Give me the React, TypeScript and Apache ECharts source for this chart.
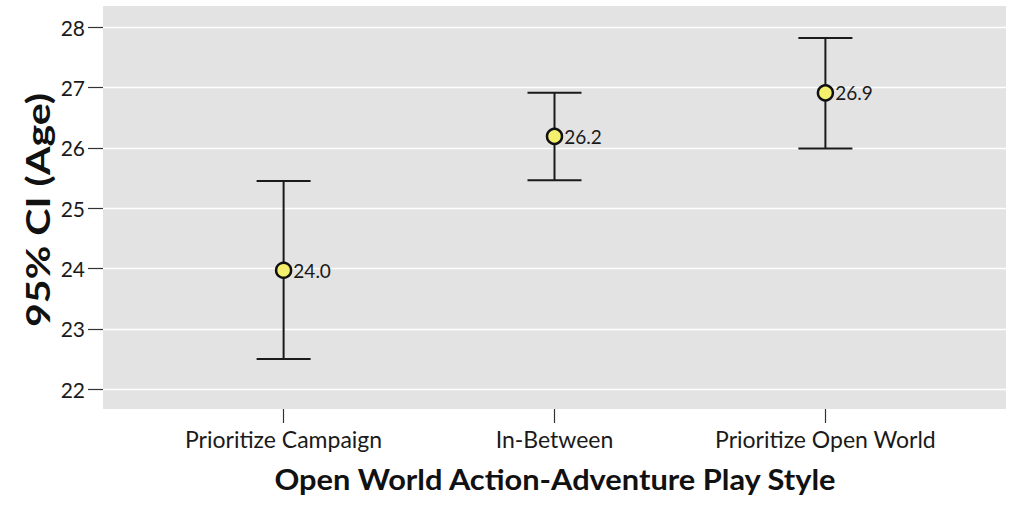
import React, { useEffect, useRef } from "react";
import * as echarts from "echarts";

const categories = ["Prioritize Campaign", "In-Between", "Prioritize Open World"];
const means = [23.97, 26.19, 26.91];
const lowerCI = [22.5, 25.46, 25.99];
const upperCI = [25.45, 26.91, 27.82];
const yTicks = [22, 23, 24, 25, 26, 27, 28];
const xPositions = [1, 2, 3];

const X_TITLE = "Open World Action-Adventure Play Style";
const Y_TITLE = "95% CI (Age)";

const FONT = "Lato";

function measure(text: string, font: string): number {
  const c = document.createElement("canvas");
  const ctx = c.getContext("2d");
  if (!ctx) return 0;
  ctx.font = font;
  return ctx.measureText(text).width;
}

export default function App() {
  const ref = useRef<HTMLDivElement>(null);
  useEffect(() => {
    document.body.style.margin = "0";
    const chart = echarts.init(ref.current!, null, { renderer: "svg" });
    const errData = xPositions.map((x, i) => [x, lowerCI[i], upperCI[i]]);

    const xTitleSize = 29;
    const yTitleSize = 33;
    const xw = measure(X_TITLE, `bold ${xTitleSize}px ${FONT}`);
    const yw = measure(Y_TITLE, `bold ${yTitleSize}px ${FONT}`);
    const xScale = xw > 0 ? 563 / xw : 1;
    const yScale = yw > 0 ? 234 / yw : 1;

    const option: any = {
      animation: false,
      backgroundColor: "#ffffff",
      grid: {
        left: 103,
        right: 18,
        top: 6,
        bottom: 105,
        show: true,
        backgroundColor: "#e3e3e3",
        borderWidth: 0,
      },
      xAxis: {
        type: "value",
        min: 1 / 3,
        max: 11 / 3,
        axisLine: { show: false },
        splitLine: { show: false },
        axisTick: {
          show: true,
          length: 14,
          customValues: xPositions,
          lineStyle: { color: "#333333", width: 1.2 },
        },
        axisLabel: {
          customValues: xPositions,
          margin: 18,
          fontFamily: FONT,
          fontSize: 23,
          color: "#1a1a1a",
          formatter: (v: number) => categories[Math.round(v) - 1] ?? "",
        },
      },
      yAxis: {
        type: "value",
        min: 21.67,
        max: 28.35,
        axisLine: { show: false },
        splitLine: { show: false },
        axisTick: {
          show: true,
          length: 15,
          customValues: yTicks,
          lineStyle: { color: "#333333", width: 1.2 },
        },
        axisLabel: {
          customValues: yTicks,
          margin: 18,
          fontFamily: FONT,
          fontSize: 21,
          color: "#1a1a1a",
        },
      },
      graphic: [
        {
          type: "text",
          x: 555,
          y: 478,
          scaleX: xScale,
          style: {
            text: X_TITLE,
            fontFamily: FONT,
            fontWeight: "bold",
            fontSize: xTitleSize,
            fill: "#111111",
            textAlign: "center",
            textVerticalAlign: "middle",
          },
        },
        {
          type: "text",
          x: 37,
          y: 210,
          rotation: Math.PI / 2,
          scaleX: yScale,
          style: {
            text: Y_TITLE,
            fontFamily: FONT,
            fontWeight: "bold",
            fontSize: yTitleSize,
            fill: "#111111",
            textAlign: "center",
            textVerticalAlign: "middle",
          },
        },
      ],
      series: [
        {
          type: "line",
          data: [],
          silent: true,
          z: 1,
          markLine: {
            silent: true,
            z: 1,
            symbol: "none",
            label: { show: false },
            lineStyle: { color: "#ffffff", width: 1.3, type: "solid" },
            data: yTicks.map((t) => ({ yAxis: t })),
          },
        },
        {
          type: "custom",
          silent: true,
          data: errData,
          z: 6,
          renderItem: (params: any, api: any) => {
            const x = api.value(0);
            const lo = api.coord([x, api.value(1)]);
            const hi = api.coord([x, api.value(2)]);
            const half = 27;
            const style = { stroke: "#1a1a1a", lineWidth: 2 };
            return {
              type: "group",
              children: [
                { type: "line", shape: { x1: lo[0], y1: lo[1], x2: hi[0], y2: hi[1] }, style },
                { type: "line", shape: { x1: lo[0] - half, y1: lo[1], x2: lo[0] + half, y2: lo[1] }, style },
                { type: "line", shape: { x1: hi[0] - half, y1: hi[1], x2: hi[0] + half, y2: hi[1] }, style },
              ],
            };
          },
        },
        {
          type: "scatter",
          z: 8,
          data: xPositions.map((x, i) => [x, means[i]]),
          symbol: "circle",
          symbolSize: 15,
          itemStyle: { color: "#f5ef6e", borderColor: "#111111", borderWidth: 2.5, opacity: 1 },
          label: {
            show: true,
            position: "right",
            distance: 1,
            fontFamily: FONT,
            fontSize: 19,
            color: "#1a1a1a",
            formatter: (p: any) => Number(p.value[1]).toFixed(1),
          },
        },
      ],
    };
    chart.setOption(option);
    return () => chart.dispose();
  }, []);
  return <div ref={ref} style={{ width: 1024, height: 514 }} />;
}
